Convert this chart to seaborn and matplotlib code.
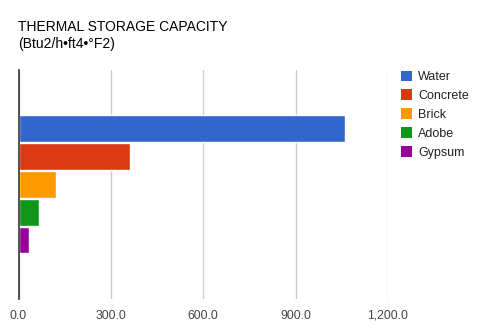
import matplotlib
matplotlib.use("Agg")
import matplotlib.pyplot as plt
import matplotlib.ticker as mticker
from matplotlib.patches import Patch
import seaborn as sns
import pandas as pd

materials = ["Water", "Concrete", "Brick", "Adobe", "Gypsum"]
capacity = [1061, 362, 122, 67, 34]
colors = ["#3366CC", "#DC3912", "#FF9900", "#109618", "#990099"]
x_ticks = [0, 300, 600, 900, 1200]

df = pd.DataFrame({"material": materials, "capacity": capacity, "group": [""] * len(materials)})

sns.set_theme(style="white")
plt.rcParams["font.family"] = ["Liberation Sans", "DejaVu Sans"]

fig = plt.figure(figsize=(5.01, 3.27), dpi=100)
W, H = 501, 327
ax = fig.add_axes([18.5 / W, (H - 298.5) / H, (388 - 18.5) / W, (298.5 - 70) / H])

sns.barplot(data=df, x="capacity", y="group", hue="material", hue_order=materials,
            palette=colors, orient="h", width=0.61, gap=0.04, dodge=True,
            legend=False, ax=ax, saturation=1)

ax.set_xlim(0, 1200)
ax.set_ylim(0.5, -0.5)
ax.set_xticks(x_ticks)
ax.xaxis.set_major_formatter(mticker.FuncFormatter(lambda v, p: f"{v:,.1f}"))
ax.tick_params(axis="x", length=0, pad=8, labelsize=8.7, labelcolor="#444444")
ax.set_yticks([])
ax.set_xlabel("")
ax.set_ylabel("")
ax.grid(axis="x", color="#cccccc", linewidth=1)
ax.set_axisbelow(True)
for s in ["top", "right", "bottom"]:
    ax.spines[s].set_visible(False)
ax.spines["left"].set_color("#333333")
ax.spines["left"].set_linewidth(1.2)
ax.spines["left"].set_zorder(5)

fig.text(18 / W, 1 - 31 / H, "THERMAL STORAGE CAPACITY", fontsize=10, color="#000000",
         ha="left", va="baseline")
fig.text(18 / W, 1 - 48 / H, "(Btu2/h\u2022ft4\u2022\u00b0F2)", fontsize=10, color="#000000",
         ha="left", va="baseline")

handles = [Patch(facecolor=c, edgecolor="none") for c in colors]
fig.legend(handles, materials, loc="upper left", bbox_to_anchor=(398 / W, 1 - 68 / H),
           frameon=False, fontsize=9.0, handlelength=0.95, handleheight=0.95,
           handletextpad=0.45, labelspacing=0.5, borderaxespad=0, borderpad=0.2,
           labelcolor="#222222")

fig.savefig("out.png", dpi=100, facecolor="white")
